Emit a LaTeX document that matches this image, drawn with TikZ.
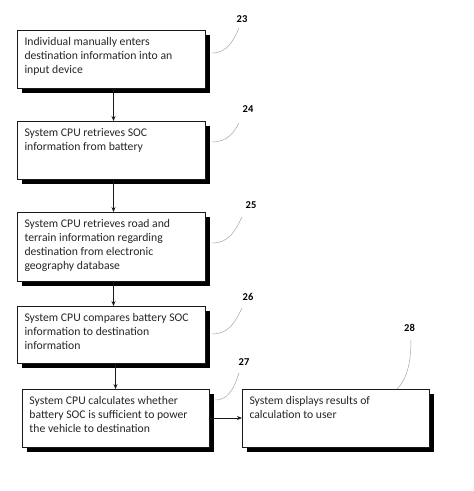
\documentclass[tikz,border=0pt]{standalone}
\usepackage{fontspec}
\setmainfont{Carlito}
\usetikzlibrary{shadows,arrows.meta}
\newcommand{\flowtext}[3]{\parbox[c][#1][t]{#2}{\raggedright\rule{0pt}{15pt}#3}}
\begin{document}
\begin{tikzpicture}[x=1pt,y=-1pt,
  flowbox/.style={draw=black!90, line width=0.8pt, fill=white, anchor=north west,
    inner xsep=7.5pt, inner ysep=0pt, outer sep=0pt,
    font=\fontsize{11.7}{14.3}\selectfont, text=black!85,
    drop shadow={shadow xshift=5pt,shadow yshift=-5pt,fill=black,opacity=1}},
  reflabel/.style={font=\fontsize{10.5}{12}\selectfont\bfseries, inner sep=0pt},
  flowarrow/.style={draw=black!90, line width=0.8pt, -{Stealth[length=5pt,width=4pt]}},
  leader/.style={draw=black!35, line width=0.5pt}]
\useasboundingbox (0,0) rectangle (474,491);

\node[flowbox] (n1) at (17,30) {\flowtext{58pt}{173pt}{Individual manually enters\\destination information into an\\input device}};
\node[flowbox] (n2) at (17,121) {\flowtext{58pt}{173pt}{System CPU retrieves SOC\\information from battery}};
\node[flowbox] (n3) at (17,212) {\flowtext{69pt}{173pt}{System CPU retrieves road and\\terrain information regarding\\destination from electronic\\geography database}};
\node[flowbox] (n4) at (17,306) {\flowtext{57pt}{173pt}{System CPU compares battery SOC\\information to destination\\information}};
\node[flowbox] (n5) at (22,389) {\flowtext{58pt}{172pt}{System CPU calculates whether\\battery SOC is sufficient to power\\the vehicle to destination}};
\node[flowbox] (n6) at (242,389) {\flowtext{58pt}{172pt}{System displays results of\\calculation to user}};

\node[reflabel] (lab23) at (242,19.5) {23};
\node[reflabel] (lab24) at (248,109) {24};
\node[reflabel] (lab25) at (251,205) {25};
\node[reflabel] (lab26) at (248,297) {26};
\node[reflabel] (lab27) at (244,362.5) {27};
\node[reflabel] (lab28) at (409.5,327.5) {28};

\draw[flowarrow] ([xshift=2.5pt]n1.south) -- ([xshift=2.5pt]n2.north);
\draw[flowarrow] ([xshift=2.5pt]n2.south) -- ([xshift=2.5pt]n3.north);
\draw[flowarrow] ([xshift=2.5pt]n3.south) -- ([xshift=2.5pt]n4.north);
\draw[flowarrow] (n4.south -| n5.north) -- (n5.north);
\draw[flowarrow] (n5.east) -- (n6.west);

\coordinate (s23) at (212,53);  \coordinate (e23) at (239,28);
\coordinate (s24) at (212,142); \coordinate (e24) at (239,123);
\coordinate (s25) at (212,243); \coordinate (e25) at (242,217);
\coordinate (s26) at (212,334); \coordinate (e26) at (242,308);
\coordinate (s27) at (215,400); \coordinate (e27) at (239,373);
\coordinate (s28) at (397,389); \coordinate (e28) at (411,340);

\draw[leader] (s23) .. controls (228,53) and (234,39) .. (e23);
\draw[leader] (s24) .. controls (228,142) and (234,132) .. (e24);
\draw[leader] (s25) .. controls (230,243) and (236,229) .. (e25);
\draw[leader] (s26) .. controls (230,334) and (236,320) .. (e26);
\draw[leader] (s27) .. controls (230,400) and (235,385) .. (e27);
\draw[leader] (s28) .. controls (406,380) and (411,365) .. (e28);
\end{tikzpicture}
\end{document}
